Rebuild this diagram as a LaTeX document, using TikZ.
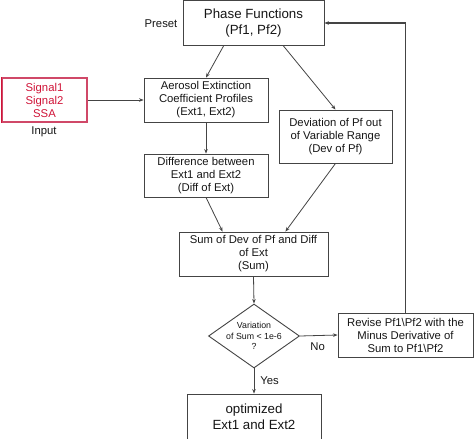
\documentclass[tikz,border=0pt]{standalone}
\usepackage{fontspec}
\setmainfont{Liberation Sans}
\usetikzlibrary{shapes.geometric,arrows.meta,calc}
\definecolor{boxline}{HTML}{444444}
\definecolor{txt}{HTML}{161616}
\definecolor{redline}{HTML}{D04868}
\definecolor{redtxt}{HTML}{D01438}
\tikzset{
  box/.style={draw=boxline, line width=0.9pt, inner sep=0pt, align=center, text=txt,
    font=\fontsize{11.3}{13}\selectfont},
  bigbox/.style={box, font=\fontsize{13.3}{16}\selectfont},
  redbox/.style={box, draw=redline, line width=1.1pt, text=redtxt},
  lbl/.style={text=txt, inner sep=0pt, font=\fontsize{11.3}{13}\selectfont},
  arr/.style={draw=boxline, line width=0.8pt, -{Stealth[length=4.5pt,width=3.5pt]}},
}
\begin{document}
\begin{tikzpicture}[x=1pt,y=-1pt]
\useasboundingbox[fill=white] (0,0) rectangle (474,439);
\node[bigbox, minimum width=141pt, minimum height=45pt] (phase) at (253.5,23) {Phase Functions\\(Pf1, Pf2)};
\node[redbox, minimum width=85pt, minimum height=44pt] (signal) at (44.5,100) {Signal1\\Signal2\\SSA};
\draw[draw=redtxt, line width=1.6pt] (signal.south west) -- (signal.north west);
\node[box, minimum width=124pt, minimum height=44pt] (aero) at (206,100) {Aerosol Extinction\\Coefficient Profiles\\(Ext1, Ext2)};
\node[box, minimum width=113pt, minimum height=53pt] (dev) at (335.5,136.5) {Deviation of Pf out\\of Variable Range\\(Dev of Pf)};
\node[box, minimum width=124pt, minimum height=43pt] (diff) at (206,175.5) {Difference between\\Ext1 and Ext2\\(Diff of Ext)};
\node[box, minimum width=149pt, minimum height=44pt] (sum) at (253.5,254) {Sum of Dev of Pf and Diff\\of Ext\\(Sum)};
\node[draw=boxline, line width=0.9pt, diamond, inner sep=0pt, minimum width=91pt, minimum height=64pt] (dia) at (254,336) {};
\node[text=txt, align=center, inner sep=0pt, font=\fontsize{8.8}{10.3}\selectfont] (diatext) at (dia.center) {Variation\\of Sum < 1e-6\\?};
\node[box, minimum width=135pt, minimum height=44pt] (rev) at (405.5,335) {Revise Pf1\textbackslash Pf2 with the\\Minus Derivative of\\Sum to Pf1\textbackslash Pf2};
\node[bigbox, minimum width=134pt, minimum height=46pt] (opt) at (254,417) {optimized\\Ext1 and Ext2};
\node[lbl] (preset) at (161,24) {Preset};
\node[lbl] (input) at (44,131.5) {Input};
\coordinate (pa) at ($(phase.south west)+(41,0)$);
\coordinate (pd) at ($(phase.south east)+(-41,0)$);
\coordinate (sl) at ($(sum.north west)+(44,0)$);
\coordinate (sr) at ($(sum.north east)+(-43,0)$);
\draw[arr] (pa) -- (aero.north);
\draw[arr] (pd) -- (dev.north);
\draw[arr] (signal.east) -- (aero.west);
\draw[arr] (aero.south) -- (diff.north);
\draw[arr] (diff.south) -- (sl);
\draw[arr] (dev.south) -- (sr);
\draw[arr] (sum.south) -- (dia.north);
\draw[arr] (dia.east) -- (rev.west) node[lbl, pos=0.47, below=7pt] (no) {No};
\draw[arr] (dia.south) -- (opt.north) node[lbl, pos=0.5, right=6pt] (yes) {Yes};
\draw[arr, line width=1.5pt] (rev.north) |- (phase.east);
\end{tikzpicture}
\end{document}
